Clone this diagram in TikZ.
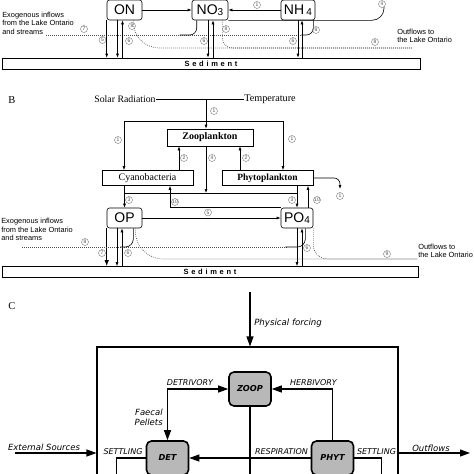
\documentclass[tikz,border=0pt]{standalone}
\usepackage{fontspec}
\setmainfont{Liberation Serif}
\setsansfont{Liberation Sans}
\newfontfamily\vfont{DejaVu Sans}[ItalicFont={DejaVu Sans Oblique},BoldItalicFont={DejaVu Sans Bold Oblique}]
\usetikzlibrary{arrows.meta}

\begin{document}
\begin{tikzpicture}
 [x=1pt,y=-1pt,line width=0.6pt,
   arr/.style={-{Latex[length=4pt,width=3pt]}},
   biarr/.style={{Latex[length=4pt,width=3pt]}-{Latex[length=4pt,width=3pt]}},
   dots/.style={black!70,dash pattern=on 0.8pt off 1.2pt},
   pool/.style={draw,rounded corners=2.5pt,minimum height=20pt,inner sep=0pt,font=\sffamily\fontsize{14}{14}\selectfont},
   plank/.style={draw,minimum width=91pt,minimum height=15pt,inner sep=0pt,font=\fontsize{10}{10}\selectfont},
   sed/.style={draw,minimum width=418pt,minimum height=11pt,inner sep=0pt,font=\sffamily\bfseries\fontsize{7.5}{7.5}\selectfont\addfontfeature{LetterSpace=36}},
   num/.style={circle,draw=black!55,text=black!70,line width=0.4pt,inner sep=0pt,minimum size=7pt,font=\sffamily\fontsize{5}{5}\selectfont},
   note/.style={inner sep=0pt,align=left,font=\sffamily\fontsize{7.4}{8.5}\selectfont},
   panel/.style={inner sep=0pt,font=\fontsize{10.5}{10.5}\selectfont},
   comp/.style={draw,fill=black!28,line width=1.6pt,rounded corners=5pt,minimum width=42pt,minimum height=34pt,inner sep=0pt,font=\vfont\bfseries\itshape\fontsize{8.2}{8.2}\selectfont},
   flow/.style={line width=1.1pt},
   big/.style={flow,-{Triangle[length=10pt,width=7pt]}},
   big2/.style={flow,{Triangle[length=10pt,width=7pt]}-{Triangle[length=10pt,width=7pt]}},
   proc/.style={inner sep=0pt,font=\vfont\itshape\fontsize{8}{8}\selectfont}]
  \useasboundingbox (0,0) rectangle (474,474);
  \clip (0,0) rectangle (474,474);

  % A
  \node[pool,minimum width=35pt] (ON) at (124.5,10) {ON};
  \node[pool,minimum width=36pt] (NO3) at (210,10) {NO\raisebox{-1pt}{\fontsize{10}{10}\selectfont 3}};
  \node[pool,minimum width=34pt] (NH4) at (298,10) {NH\,\raisebox{-1pt}{\fontsize{10}{10}\selectfont 4}};
  \node[sed] (sedA) at (211,63.5) {Sediment};
  \node[note,anchor=west] (exoA) at (2,23) {Exogenous inflows\\from the Lake Ontario\\and streams};
  \node[note,anchor=west] (outtxtA) at (397,36) {Outflows to\\the Lake Ontario};
  \draw[arr] (ON) -- (NO3);
  \draw[arr] (NH4) -- (NO3);
  \coordinate (backA) at (384,7);
  \draw[rounded corners=12pt] (NO3.south east) -| (backA);
  \coordinate (inA) at (46,35);
  \coordinate (inAend) at (301,35);
  \draw[dots] (inA) -- (inAend);
  \draw[rounded corners=7pt] ([xshift=-12pt]NO3.south west |- inA) -| ([xshift=5pt]NO3.south west);
  \draw[rounded corners=7pt] ([xshift=-14pt]NH4.south east |- inA) -| ([xshift=-2pt]NH4.south east);
  \coordinate (outA) at (412,48);
  \draw[dots,rounded corners=26pt] ([xshift=-9pt]ON.south east) |- (outA);
  \draw[dots,rounded corners=10pt] ([xshift=-6pt]NO3.south east) |- (outA);
  \draw[arr] (ON.south west) -- (ON.south west |- sedA.north);
  \draw[arr] ([xshift=-7pt]ON.south) -- ([xshift=-7pt]ON.south |- sedA.north);
  \draw[arr] ([xshift=-2pt]ON.south |- sedA.north) -- ([xshift=-2pt]ON.south);
  \draw[arr] ([xshift=-2pt]NO3.south) -- ([xshift=-2pt]NO3.south |- sedA.north);
  \draw[arr] ([xshift=3pt]NO3.south |- sedA.north) -- ([xshift=3pt]NO3.south);
  \draw[arr] (NH4.south) -- (NH4.south |- sedA.north);
  \draw[arr] ([xshift=4pt]NH4.south |- sedA.north) -- ([xshift=4pt]NH4.south);
  \node[num] (a1) at (257,5) {1};
  \node[num] (a4) at (382,4) {4};
  \node[num] (a5) at (102.5,40) {5};
  \node[num] (a6a) at (129,41) {6};
  \node[num] (a6b) at (204,41) {6};
  \node[num] (a6c) at (293,41) {6};
  \node[num] (a7) at (84,29) {7};
  \node[num] (a8a) at (132,26) {8};
  \node[num] (a8b) at (226,29) {8};
  \node[num] (a8c) at (316,30) {8};
  \node[num] (a8d) at (375,42) {8};

  % B
  \node[panel] (labB) at (12,100) {B};
  \node[inner sep=0pt,font=\fontsize{9.8}{9.8}\selectfont] (solar) at (125,99) {Solar Radiation};
  \node[inner sep=0pt,font=\fontsize{10.2}{10.2}\selectfont] (temp) at (270,99) {Temperature};
  \draw (solar) -- (temp);
  \node[plank,font=\bfseries\fontsize{10}{10}\selectfont,minimum width=86pt,minimum height=17pt] (zoo) at (210,137.5) {Zooplankton};
  \node[plank] (cyano) at (147.5,178) {Cyanobacteria};
  \node[plank,font=\bfseries\fontsize{9.5}{9.5}\selectfont] (phyto) at (267.5,178) {Phytoplankton};
  \node[pool,minimum width=35pt] (OP) at (124.5,218) {OP};
  \node[pool,minimum width=32pt] (PO4) at (297,218) {PO\raisebox{-1pt}{\fontsize{10}{10}\selectfont 4}};
  \node[sed,minimum width=416pt] (sedB) at (210,272) {Sediment};
  \node[note,anchor=west] (exoB) at (1,229.5) {Exogenous inflows\\from the Lake Ontario\\and streams};
  \node[note,anchor=west] (outtxtB) at (418,251) {Outflows to\\the Lake Ontario};
  \coordinate (sun) at (206,99);
  \draw[arr] (sun) -- (sun |- zoo.north);
  \coordinate (lightL) at (124,121);
  \coordinate (lightR) at (283,121);
  \draw[biarr] (lightL |- cyano.north) -- (lightL) -- (lightR) -- (lightR |- phyto.north);
  \draw[arr] ([xshift=31.5pt]cyano.north) -- ([xshift=31.5pt]cyano.north |- zoo.south);
  \draw[arr] ([xshift=-27.5pt]phyto.north) -- ([xshift=-27.5pt]phyto.north |- zoo.south);
  \coordinate (mix) at (206,193);
  \draw[arr] (mix |- zoo.south) -- (mix);
  \draw (mix -| OP.north) -- (mix -| PO4.north);
  \draw[arr] (cyano.south -| OP.north) -- (OP.north);
  \draw[arr] (phyto.south -| PO4.north) -- (PO4.north);
  \draw[arr] ([xshift=11pt]PO4.north) -- ([xshift=11pt]PO4.north |- phyto.south);
  \draw[arr] (PO4.north west) -| ([xshift=22.5pt]cyano.south);
  \coordinate (lossB) at (340,189);
  \draw[arr,rounded corners=6pt] (phyto.east) -| (lossB);
  \draw[arr] (OP) -- (PO4);
  \draw[line width=1pt,-{Latex[length=6pt,width=4.5pt]}] (OP.south west) -- (OP.south west |- sedB.north);
  \draw[arr] ([xshift=-7.5pt]OP.south) -- ([xshift=-7.5pt]OP.south |- sedB.north);
  \draw[arr] ([xshift=-2.5pt]OP.south |- sedB.north) -- ([xshift=-2.5pt]OP.south);
  \draw[arr] (PO4.south) -- (PO4.south |- sedB.north);
  \draw[arr] ([xshift=5pt]PO4.south |- sedB.north) -- ([xshift=5pt]PO4.south);
  \coordinate (inB) at (22,247);
  \coordinate (inBend) at (287,247);
  \draw[dots] (inB) -- (inBend);
  \draw[rounded corners=8pt] ([xshift=-22pt]OP.south east |- inB) -| ([xshift=-9pt]OP.south east);
  \draw[rounded corners=8pt] ([xshift=-28pt]PO4.south east |- inB) -| ([xshift=-8pt]PO4.south east);
  \coordinate (outB) at (417,259);
  \draw[dots,rounded corners=28pt] ([xshift=-7pt]OP.south east) |- (outB);
  \draw[dots,rounded corners=14pt] (PO4.south east) |- (outB);
  \node[num] (b1a) at (214,111) {1};
  \node[num] (b1b) at (118,140) {1};
  \node[num] (b1c) at (292,139) {1};
  \node[num] (b1d) at (340,196) {1};
  \node[num] (b2a) at (184,158) {2};
  \node[num] (b2b) at (246,158) {2};
  \node[num] (b4) at (212,158) {4};
  \node[num] (b3a) at (129,200) {3};
  \node[num] (b3b) at (292,200) {3};
  \node[num] (b10a) at (175,202) {10};
  \node[num] (b10b) at (317,200) {10};
  \node[num] (b5) at (208,212.5) {5};
  \node[num] (b8) at (85,242) {8};
  \node[num] (b7) at (102,253) {7};
  \node[num] (b6a) at (128,253) {6};
  \node[num] (b6b) at (307,248) {6};
  \node[num] (b9) at (387,254) {9};

  % C
  \node[panel] (labC) at (12,306) {C};
  \node[draw,flow,minimum width=301pt,minimum height=146pt] (lake) at (247.5,420) {};
  \coordinate (force) at (250,292);
  \draw[big] (force) -- (force |- lake.north);
  \node[proc,anchor=west,font=\vfont\itshape\fontsize{8.6}{8.6}\selectfont] (forcetxt) at (254,323) {Physical forcing};
  \node[comp] (ZOOP) at (250,389) {ZOOP};
  \node[comp] (DET) at (167.5,458) {DET};
  \node[comp] (PHYT) at (332.5,458) {PHYT};
  \draw[big2] (ZOOP.west) -| (DET.north);
  \draw[big] (PHYT.north) |- (ZOOP.east);
  \draw[big] (PHYT.west) -- (DET.east);
  \draw[flow] (ZOOP.south) -- (ZOOP.south |- lake.south);
  \draw[flow] (DET.west) -| ([xshift=-29.5pt]DET.west |- lake.south);
  \draw[flow] (PHYT.east) -| ([xshift=27.5pt]PHYT.east |- lake.south);
  \coordinate (ext) at (15,453);
  \draw[big] (ext) -- (ext -| lake.west);
  \coordinate (outC) at (470,453);
  \draw[big] (outC -| lake.east) -- (outC);
  \node[proc,anchor=south] (detlab) at (190,385.5) {DETRIVORY};
  \node[proc,anchor=south] (herblab) at (313.5,385.5) {HERBIVORY};
  \node[proc,anchor=south] (resplab) at (281.5,455) {RESPIRATION};
  \node[proc,anchor=south] (setlabL) at (123,455) {SETTLING};
  \node[proc,anchor=south] (setlabR) at (376.5,455) {SETTLING};
  \node[proc,anchor=east,align=right,font=\vfont\itshape\fontsize{8.5}{10}\selectfont] (faecal) at (163,417) {Faecal\\Pellets};
  \node[proc,font=\vfont\itshape\fontsize{8.5}{8.5}\selectfont] (extlab) at (44,447) {External Sources};
  \node[proc,font=\vfont\itshape\fontsize{8.5}{8.5}\selectfont] (outlab) at (431,448) {Outflows};
\end{tikzpicture}
\end{document}
